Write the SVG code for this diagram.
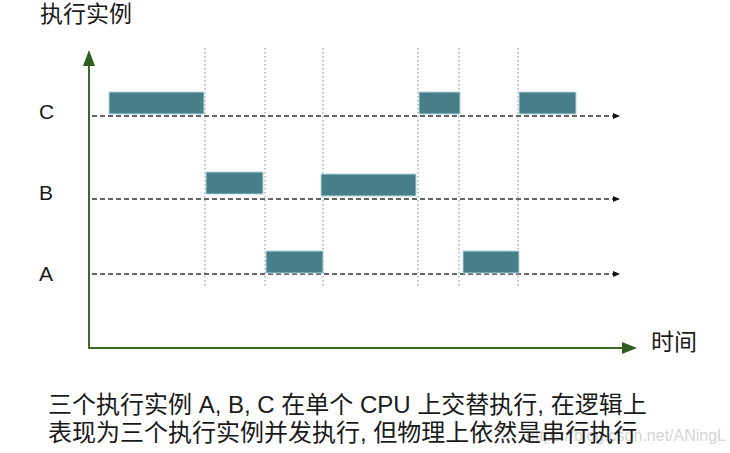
<svg xmlns="http://www.w3.org/2000/svg" width="730" height="453" viewBox="0 0 730 453">
<defs>
<style>
.cjk{font-family:"Liberation Sans","Noto Sans CJK SC",sans-serif;fill:#1a1a1a}
.lbl{font-family:"Liberation Sans",Arial,sans-serif;font-size:21px;fill:#1a1a1a}
.bar{fill:#467f89;stroke:#b4d8dc;stroke-width:1}
.dash{stroke:#333;stroke-width:1.3;stroke-dasharray:5 3;fill:none}
.dot{stroke:#888;stroke-width:1;stroke-dasharray:1.5 2.5;fill:none}
.axis{stroke:#3b6b27;stroke-width:2;fill:none}
</style>
<marker id="ah" markerWidth="8" markerHeight="8" refX="7" refY="4" orient="auto" markerUnits="userSpaceOnUse">
<path d="M0,1 L7,4 L0,7 Z" fill="#111"/>
</marker>
</defs>
<rect width="730" height="453" fill="#fff"/>
<text class="cjk" x="40" y="22" font-size="23">执行实例</text>
<g id="grid">
<line class="dot" x1="205" y1="48" x2="205" y2="288"/>
<line class="dot" x1="265" y1="48" x2="265" y2="288"/>
<line class="dot" x1="323" y1="48" x2="323" y2="288"/>
<line class="dot" x1="418" y1="48" x2="418" y2="288"/>
<line class="dot" x1="459" y1="48" x2="459" y2="288"/>
<line class="dot" x1="518" y1="48" x2="518" y2="288"/>
</g>
<g id="connectors">
<line class="dash" x1="92" y1="116" x2="620" y2="116" marker-end="url(#ah)"/>
<line class="dash" x1="92" y1="199" x2="620" y2="199" marker-end="url(#ah)"/>
<line class="dash" x1="92" y1="274" x2="620" y2="274" marker-end="url(#ah)"/>
<path class="axis" d="M89,348 V64"/>
<path d="M83,66 L89,50 L95,66 Z" fill="#2f5e1f"/>
<path class="axis" d="M88,348 H624"/>
<path d="M622,342 L637,348 L622,354 Z" fill="#2f5e1f"/>
</g>
<g id="C">
<text class="lbl" x="39" y="119">C</text>
<rect class="bar" x="109" y="92" width="95" height="22"/>
<rect class="bar" x="419" y="92" width="41" height="22"/>
<rect class="bar" x="519" y="92" width="57" height="22"/>
</g>
<g id="B">
<text class="lbl" x="39" y="200">B</text>
<rect class="bar" x="206" y="172" width="57" height="22"/>
<rect class="bar" x="321" y="174" width="95" height="22"/>
</g>
<g id="A">
<text class="lbl" x="39" y="281">A</text>
<rect class="bar" x="266" y="251" width="57" height="22"/>
<rect class="bar" x="463" y="251" width="56" height="22"/>
</g>
<text class="cjk" x="651" y="350" font-size="23">时间</text>
<text x="726" y="441" text-anchor="end" font-family="Liberation Sans,sans-serif" font-size="16" fill="#d4d4d4">https://blog.csdn.net/ANingL</text>
<text class="cjk" x="48" y="413" font-size="24">三个执行实例 A, B, C 在单个 CPU 上交替执行, 在逻辑上</text>
<text class="cjk" x="48" y="441" font-size="24">表现为三个执行实例并发执行, 但物理上依然是串行执行</text>
</svg>
